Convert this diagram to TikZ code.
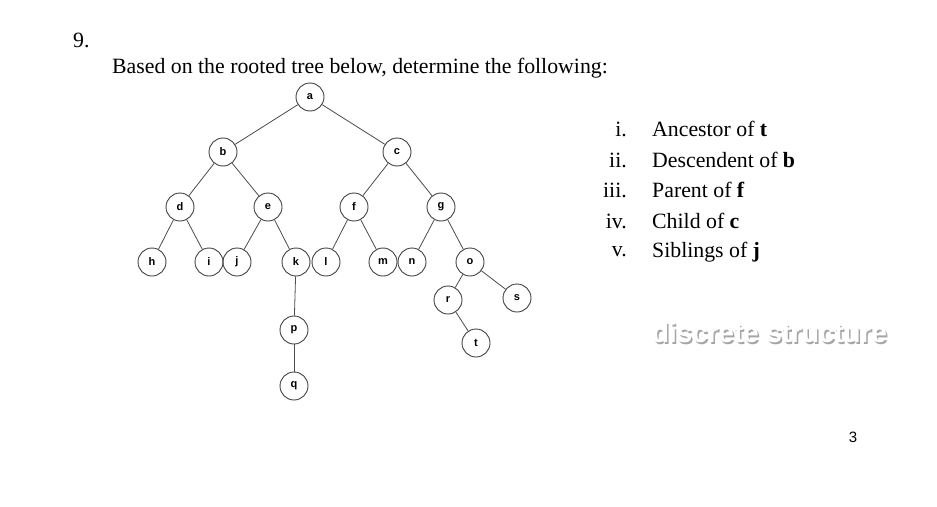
\documentclass[tikz,border=0pt]{standalone}
\usepackage{fontspec}
\setmainfont{Liberation Serif}
\newfontfamily\sfh{Liberation Sans}
\begin{document}
\begin{tikzpicture}[x=1pt,y=-1pt,
  tn/.style={circle,draw=black!75,line width=0.9pt,minimum size=28pt,inner sep=0pt,font=\sfh\bfseries\fontsize{11}{11}\selectfont},
  ed/.style={draw=black!70,line width=0.8pt},
  txt/.style={font=\fontsize{21.8}{24}\selectfont,inner sep=0pt}]
\useasboundingbox[fill=white] (0,0) rectangle (937,506);
\node[txt,anchor=west] (num) at (73,40) {9.};
\node[txt,anchor=west] (hd) at (112,68) {Based on the rooted tree below, determine the following:};
\foreach \n/\x/\y in {a/310/97,b/223/152,c/397/152,d/180/207,e/268/207,f/354/207,g/441/207,
  h/152/262,i/209/262,j/237/262,k/296/262,l/326/262,m/383/262,n/412/262,o/470/262,
  r/448/300,s/517/298,t/476/343,p/294/330,q/294/386}
  \node[tn] (\n) at (\x,\y) {\n};
\foreach \u/\v in {a/b,a/c,b/d,b/e,c/f,c/g,d/h,d/i,e/j,e/k,f/l,f/m,g/n,g/o,o/r,o/s,r/t,k/p,p/q}
  \draw[ed] (\u) -- (\v);
\foreach \r/\t/\y in {i./Ancestor of \textbf{t}/129, ii./Descendent of \textbf{b}/160, iii./Parent of \textbf{f}/190, iv./Child of \textbf{c}/221, v./Siblings of \textbf{j}/252}{
  \node[txt,anchor=east] at (627,\y) {\r};
  \node[txt,anchor=west] at (652,\y) {\t};
}
\node[font=\sfh\bfseries\fontsize{27.8}{28}\selectfont,text=black!35,anchor=west,inner sep=0pt] (wm0) at (653.5,334.5) {discrete structure};
\node[font=\sfh\bfseries\fontsize{27.8}{28}\selectfont,text=white,anchor=west,inner sep=0pt] (wm) at (652,333) {discrete structure};
\node[font=\sfh\fontsize{15}{15}\selectfont,inner sep=0pt] (pg) at (853,437) {3};
\end{tikzpicture}
\end{document}
